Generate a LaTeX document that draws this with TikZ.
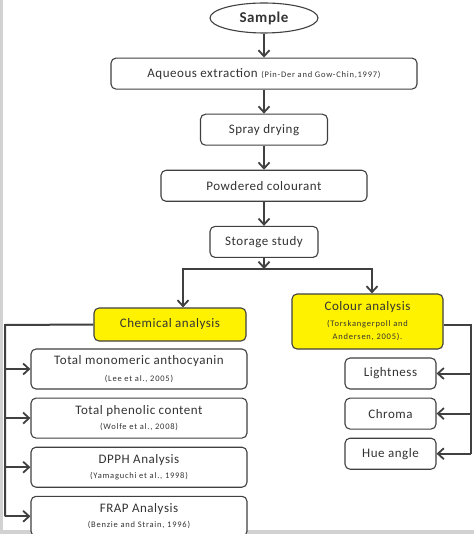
\documentclass[tikz,border=0pt]{standalone}
\usepackage{fontspec}
\setmainfont{Carlito}[LetterSpace=4]
\newfontfamily\citefont[LetterSpace=9]{Carlito}
\usetikzlibrary{arrows.meta,positioning,shapes.geometric}
\newcommand{\refnote}[1]{{\fontsize{8.5}{10}\citefont #1}}
\tikzset{
  stepbox/.style={
    rectangle,
    rounded corners=5pt,
    draw=black!75,
    line width=1.1pt,
    fill=white,
    align=center,
    text=black!80,
    font=\fontsize{13}{15}\selectfont,
    inner sep=1pt
  },
  mainbox/.style={
    stepbox,
    minimum height=31pt
  },
  testbox/.style={
    stepbox,
    minimum width=216pt,
    minimum height=40pt
  },
  colbox/.style={
    stepbox,
    minimum width=91pt,
    minimum height=31pt
  },
  hilite/.style={
    stepbox,
    fill=yellow
  },
  arrow/.style={
    -{Straight Barb[length=6pt,width=11pt,line width=1.8pt]},
    line width=2pt,
    draw=black!75
  },
  bus/.style={
    line width=2pt,
    draw=black!75
  }
}
\begin{document}
\begin{tikzpicture}[x=1pt,y=1pt,node distance=24pt]
  % frame
  \fill[gray!35] (0,0) rectangle (474,-534);
  \fill[white] (3,0) rectangle (474,-530);
  \useasboundingbox (0,0) rectangle (474,-534);

  % main column
  \node[ellipse, draw=black!75, line width=1.1pt, fill=white, minimum width=108pt, minimum height=30pt,
        inner sep=0pt, font=\fontsize{15}{17}\selectfont\bfseries, text=black!80] (sample) at (264,-18) {Sample};
  \node[mainbox, minimum width=306pt, below=of sample] (extract) {Aqueous extraction \refnote{(Pin-Der and Gow-Chin,1997)}};
  \node[mainbox, minimum width=127pt, below=of extract] (spray) {Spray drying};
  \node[mainbox, minimum width=206pt, below=of spray] (powder) {Powdered colourant};
  \node[mainbox, minimum width=108pt, below=of powder] (store) {Storage study};

  % two branches
  \node[hilite, minimum width=152pt, minimum height=33pt] (chem) at (170,-324.5) {Chemical analysis};
  \node[hilite, minimum width=151pt, minimum height=55pt] (colour) at (367.5,-321.5)
    {Colour analysis\\[1pt]\refnote{(Torskangerpoll and}\\[-2pt]\refnote{Andersen, 2005).}};

  % chemical tests
  \node[testbox] (tma) at (139,-369) {Total monomeric anthocyanin\\[2pt]\refnote{(Lee et al., 2005)}};
  \node[testbox, below=8pt of tma] (tpc) {Total phenolic content\\\refnote{(Wolfe et al., 2008)}};
  \node[testbox, below=8pt of tpc] (dpph) {DPPH Analysis\\\refnote{(Yamaguchi et al., 1998)}};
  \node[testbox, below=8pt of dpph] (frap) {FRAP Analysis\\\refnote{(Benzie and Strain, 1996)}};

  % colour tests
  \node[colbox] (light) at (390.5,-373.5) {Lightness};
  \node[colbox, below=8pt of light] (chroma) {Chroma};
  \node[colbox, below=8pt of chroma] (hue) {Hue angle};

  % connectors
  \draw[arrow] (sample) -- (extract);
  \draw[arrow] (extract) -- (spray);
  \draw[arrow] (spray) -- (powder);
  \draw[arrow] (powder) -- (store);
  \coordinate (split) at (264,-269);
  \draw[arrow] (store) -- (split);
  \draw[arrow] (split) -| ([xshift=13pt]chem.north);
  \draw[arrow] (split) -| ([xshift=4.5pt]colour.north);

  \coordinate (lbus) at (5,-325);
  \draw[bus] (chem.west) -- (lbus) -- (lbus |- frap.west);
  \foreach \n in {tma,tpc,dpph,frap}
    \draw[arrow] (lbus |- \n.west) -- (\n.west);

  \coordinate (rbus) at (471,-325);
  \draw[bus] (colour.east |- rbus) -- (rbus) -- (rbus |- hue.east);
  \foreach \n in {light,chroma,hue}
    \draw[arrow] (rbus |- \n.east) -- (\n.east);
\end{tikzpicture}
\end{document}
